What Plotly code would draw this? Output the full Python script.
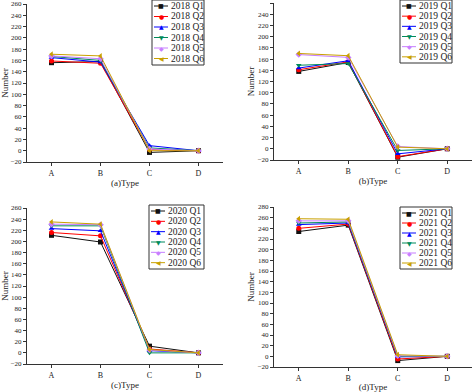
import plotly.graph_objects as go

categories = ["A", "B", "C", "D"]
series_names = ["Q1", "Q2", "Q3", "Q4", "Q5", "Q6"]

vals_2018 = {
    "Q1": [156, 158, -3, 0],
    "Q2": [159, 155, 2, 0],
    "Q3": [165, 157, 9, 0],
    "Q4": [167, 160, 5, 0],
    "Q5": [168, 163, 3, 0],
    "Q6": [171, 168, 0, 0],
}
vals_2019 = {
    "Q1": [138, 154, -15, 0],
    "Q2": [141, 155, -14, 0],
    "Q3": [144, 157, -9, 0],
    "Q4": [149, 152, -3, 0],
    "Q5": [168, 163, 4, 0],
    "Q6": [170, 166, 3, 0],
}
vals_2020 = {
    "Q1": [211, 199, 12, 0],
    "Q2": [216, 210, 7, 0],
    "Q3": [223, 219, 4, 0],
    "Q4": [228, 228, 0, 0],
    "Q5": [231, 230, 5, 0],
    "Q6": [235, 231, 6, 0],
}
vals_2021 = {
    "Q1": [234, 246, -8, 0],
    "Q2": [240, 248, -5, 0],
    "Q3": [247, 250, -1, 0],
    "Q4": [250, 252, 0, 0],
    "Q5": [254, 254, 1, 0],
    "Q6": [258, 257, 3, 0],
}

years = ["2018", "2019", "2020", "2021"]
panel_labels = ["(a)Type", "(b)Type", "(c)Type", "(d)Type"]
all_vals = [vals_2018, vals_2019, vals_2020, vals_2021]
y_ranges = [[-20, 260], [-20, 260], [-20, 260], [-20, 280]]

colors = ["#111111", "#ff0000", "#0000ff", "#008a5a", "#c77dff", "#c9a000"]
symbols = ["square", "circle", "triangle-up", "triangle-down", "diamond", "triangle-left"]
glyphs = ["\u25A0", "\u25CF", "\u25B2", "\u25BC", "\u25C6", "\u25C0"]

W, H = 474, 392
# pixel boxes: (x0, x1, ytop, ybottom)
boxes = [(27, 223, 4, 162), (274, 472, 3, 160), (27, 223, 208, 364), (274, 472, 207, 367)]
# legend boxes: (x0, y0, width, height)
legend_boxes = [(152, 0, 52, 65), (400, 0, 52, 63), (149, 205, 55, 64), (400, 207, 52, 62)]

FONT = "Liberation Serif"
fig = go.Figure()
layout = dict(width=W, height=H, margin=dict(l=0, r=0, t=0, b=0),
              paper_bgcolor="white", plot_bgcolor="white",
              font=dict(family=FONT, color="#222"), showlegend=False)
shapes = []
annotations = []


def px(x):
    return x / W


def py(y):
    return 1 - y / H


for i in range(4):
    xa = "x" if i == 0 else f"x{i+1}"
    ya = "y" if i == 0 else f"y{i+1}"
    for j, s in enumerate(series_names):
        fig.add_trace(go.Scatter(
            x=categories, y=all_vals[i][s], name=f"{years[i]} {s}",
            mode="lines+markers", xaxis=xa, yaxis=ya,
            line=dict(color=colors[j], width=1),
            marker=dict(symbol=symbols[j], size=5, color=colors[j]),
        ))
    x0, x1, yt, yb = boxes[i]
    xkey = "xaxis" if i == 0 else f"xaxis{i+1}"
    ykey = "yaxis" if i == 0 else f"yaxis{i+1}"
    layout[xkey] = dict(domain=[px(x0), px(x1)], anchor=ya, range=[-0.5, 3.5],
                        type="category", showgrid=False, zeroline=False,
                        showline=True, linecolor="#333", linewidth=1,
                        ticks="outside", ticklen=3, tickcolor="#333",
                        tickfont=dict(size=8, family=FONT),
                        title=dict(text=panel_labels[i], font=dict(size=9, family=FONT), standoff=3),
                        automargin=False, fixedrange=True)
    layout[ykey] = dict(domain=[py(yb), py(yt)], anchor=xa, range=y_ranges[i],
                        dtick=20, showgrid=False, zeroline=False,
                        showline=True, linecolor="#333", linewidth=1,
                        ticks="outside", ticklen=3, tickcolor="#333",
                        tickfont=dict(size=7, family=FONT),
                        title=dict(text="Number", font=dict(size=9, family=FONT), standoff=1),
                        automargin=False, fixedrange=True)

    # legend box
    lx, ly, lw, lh = legend_boxes[i]
    shapes.append(dict(type="rect", xref="paper", yref="paper",
                       x0=px(lx), x1=px(lx + lw), y0=py(ly + lh), y1=py(ly),
                       line=dict(color="#333", width=1), fillcolor="white", layer="above"))
    step = (lh - 2) / 6
    for j, s in enumerate(series_names):
        cy = ly + 6 + step * j
        shapes.append(dict(type="line", xref="paper", yref="paper",
                           x0=px(lx + 2), x1=px(lx + 16), y0=py(cy), y1=py(cy),
                           line=dict(color=colors[j], width=1), layer="above"))
        annotations.append(dict(text=glyphs[j], xref="paper", yref="paper",
                                x=px(lx + 9), y=py(cy), xanchor="center", yanchor="middle",
                                showarrow=False, font=dict(size=6, color=colors[j], family="DejaVu Sans")))
        annotations.append(dict(text=f"{years[i]} {s}", xref="paper", yref="paper",
                                x=px(lx + 16.5), y=py(cy), xanchor="left", yanchor="middle",
                                showarrow=False, font=dict(size=9.5, color="#222", family=FONT)))

layout["shapes"] = shapes
layout["annotations"] = annotations
fig.update_layout(**layout)
fig.write_html("out.html", config={"displayModeBar": False},
               post_script="document.body.style.margin='0';")
